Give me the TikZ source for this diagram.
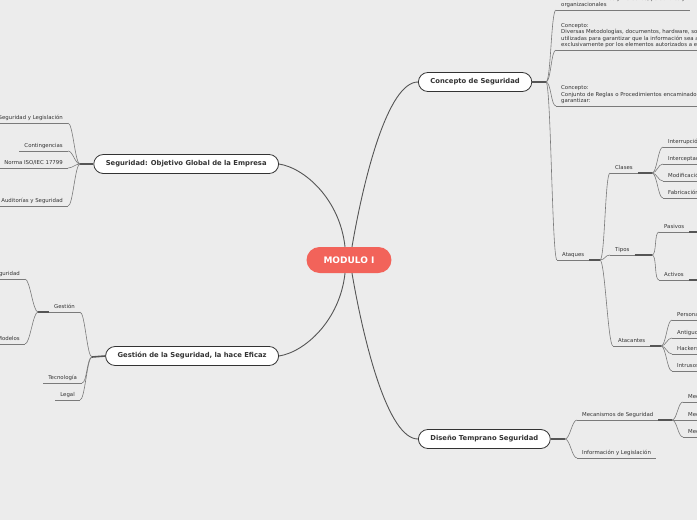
\documentclass[tikz,border=0pt]{standalone}
\usepackage{fontspec}
\setmainfont{DejaVu Sans}
\definecolor{bgcol}{HTML}{ECECEC}
\definecolor{hubred}{HTML}{F2635A}
\definecolor{inkcol}{HTML}{333333}
\definecolor{wirecol}{HTML}{555555}
\definecolor{twigcol}{HTML}{7A7A7A}
\begin{document}
\begin{tikzpicture}[x=1pt,y=-1pt,
    hub/.style={fill=hubred, text=white, font=\fontsize{9}{11}\selectfont\bfseries,
        rounded corners=13pt, minimum height=26pt, inner xsep=17pt},
    topic/.style={draw=inkcol, fill=white, text=inkcol, line width=0.8pt,
        font=\fontsize{6.8}{8}\selectfont\bfseries,
        rounded corners=9.5pt, minimum height=19pt, inner xsep=12pt},
    uline/.style={draw=twigcol, line width=0.6pt},
    leaf/.style={text=inkcol, font=\fontsize{5.4}{6.4}\selectfont,
        inner xsep=5pt, inner ysep=2pt, text depth=1pt, anchor=south west,
        append after command={(\tikzlastnode.south west) edge[uline] (\tikzlastnode.south east)}},
    leafL/.style={leaf, anchor=south east},
    note/.style={leaf, align=left, text depth=},
    link/.style={draw=wirecol, line width=0.9pt},
    stub/.style={draw=wirecol, line width=1.6pt},
    twig/.style={draw=twigcol, line width=0.6pt, out=0, in=180, distance=5pt}]
    \useasboundingbox (0,0) rectangle (697,520);
    \clip (0,0) rectangle (697,520);
    \fill[bgcol] (0,0) rectangle (697,520);

    \node[hub] (hub) at (349,260) {MODULO I};
    \node[topic, anchor=west] (concepto) at (418,82) {Concepto de Seguridad};
    \node[topic, anchor=west] (diseno) at (418,439) {Diseño Temprano Seguridad};
    \node[topic, anchor=east] (seguridad) at (279,164) {Seguridad: Objetivo Global de la Empresa};
    \node[topic, anchor=east] (gestion) at (279,356) {Gestión de la Seguridad, la hace Eficaz};

    \draw[link] ([xshift=3pt]hub.north) .. controls +(12,-70) and +(-30,0) .. (concepto.west);
    \draw[link] ([xshift=3pt]hub.south) .. controls +(12,70) and +(-30,0) .. (diseno.west);
    \draw[link] ([xshift=-4pt]hub.north) .. controls +(-5,-47) and +(26,4) .. (seguridad.east);
    \draw[link] ([xshift=-4pt]hub.south) .. controls +(-5,47) and +(26,-4) .. (gestion.east);

    \coordinate (cj) at (546,82);
    \coordinate (aj) at (600,260);
    \coordinate (clj) at (652,173);
    \coordinate (tj) at (652,255);
    \coordinate (atj) at (661,346);
    \coordinate (dj) at (565,439);
    \coordinate (mj) at (672,420);
    \coordinate (sj) at (80,164);
    \coordinate (gj) at (92,357);
    \coordinate (gsj) at (38,312);

    \node[note] (prot) at (556,10) {Concepto:\\Protección de Datos y Derechos, personales y\\organizacionales};
    \node[note] (metodos) at (556,50) {Concepto:\\Diversas Metodologías, documentos, hardware, software,\\utilizadas para garantizar que la información sea accesible\\exclusivamente por los elementos autorizados a ella};
    \node[note] (reglas) at (556,106) {Concepto:\\Conjunto de Reglas o Procedimientos encaminados a\\garantizar:};
    \node[leaf] (ataques) at (557,260) {Ataques};
    \node[leaf] (clases) at (610,173) {Clases};
    \node[leaf] (tipos) at (610,255) {Tipos};
    \node[leaf] (atacantes) at (613,346) {Atacantes};
    \node[leaf] (interrupcion) at (663,147) {Interrupción};
    \node[leaf] (interceptacion) at (663,164) {Interceptación};
    \node[leaf] (modificacion) at (663,181) {Modificación};
    \node[leaf] (fabricacion) at (663,198) {Fabricación};
    \node[leaf] (pasivos) at (659,232) {Pasivos};
    \node[leaf] (activos) at (659,280) {Activos};
    \node[leaf] (personal) at (672,320) {Personal};
    \node[leaf] (antiguos) at (672,338) {Antiguos empleados};
    \node[leaf] (hackers) at (672,354) {Hackers};
    \node[leaf] (intrusos) at (672,371) {Intrusos};
    \node[leaf] (mecseg) at (577,420) {Mecanismos de Seguridad};
    \node[leaf] (infoleg) at (577,458) {Información y Legislación};
    \node[leaf] (mecprev) at (683,402) {Mecanismos de prevención};
    \node[leaf] (mecdet) at (683,420) {Mecanismos de detección};
    \node[leaf] (mecrec) at (683,437) {Mecanismos de recuperación};

    \node[leafL] (segleg) at (68,123) {Seguridad y Legislación};
    \node[leafL] (conting) at (68,151) {Contingencias};
    \node[leafL] (norma) at (68,168) {Norma ISO/IEC 17799};
    \node[leafL] (auditorias) at (68,206) {Auditorías y Seguridad};
    \node[leafL] (gestleaf) at (80,312) {Gestión};
    \node[leafL] (tecno) at (82,383) {Tecnología};
    \node[leafL] (legal) at (80,400) {Legal};
    \node[leafL] (polseg) at (25,279) {Seguridad};
    \node[leafL] (modelos) at (25,344) {Modelos};

    \draw[stub] (concepto.east) -- (cj);
    \draw[stub] (ataques.south east) -- (aj);
    \draw[stub] (clases.south east) -- (clj);
    \draw[stub] (tipos.south east) -- (tj);
    \draw[stub] (atacantes.south east) -- (atj);
    \draw[stub] (diseno.east) -- (dj);
    \draw[stub] (mecseg.south east) -- (mj);
    \draw[stub] (seguridad.west) -- (sj);
    \draw[stub] (gestion.west) -- (gj);
    \draw[stub] (gestleaf.south west) -- (gsj);
    \draw[stub] (pasivos.south east) -- ++(15,0);
    \draw[stub] (activos.south east) -- ++(15,0);

    \foreach \n in {prot,metodos,reglas,ataques}
        \draw[twig] (cj) to (\n.south west);
    \foreach \n in {clases,tipos,atacantes}
        \draw[twig] (aj) to (\n.south west);
    \foreach \n in {interrupcion,interceptacion,modificacion,fabricacion}
        \draw[twig] (clj) to (\n.south west);
    \foreach \n in {pasivos,activos}
        \draw[twig] (tj) to (\n.south west);
    \foreach \n in {personal,antiguos,hackers,intrusos}
        \draw[twig] (atj) to (\n.south west);
    \foreach \n in {mecseg,infoleg}
        \draw[twig] (dj) to (\n.south west);
    \foreach \n in {mecprev,mecdet,mecrec}
        \draw[twig] (mj) to (\n.south west);
    \foreach \n in {segleg,conting,norma,auditorias}
        \draw[twig] (\n.south east) to (sj);
    \foreach \n in {gestleaf,tecno,legal}
        \draw[twig] (\n.south east) to (gj);
    \foreach \n in {polseg,modelos}
        \draw[twig] (\n.south east) to (gsj);
\end{tikzpicture}
\end{document}
